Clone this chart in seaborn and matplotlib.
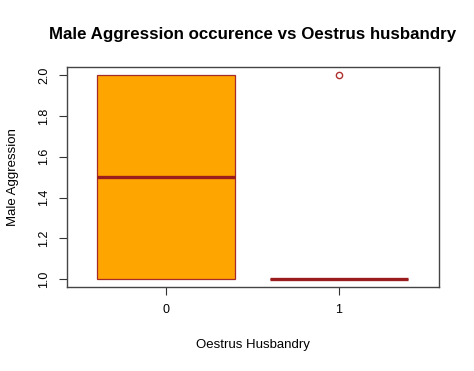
import matplotlib
matplotlib.use('Agg')

import pandas as pd
import matplotlib.pyplot as plt
import seaborn as sns

# -------------------------------
# DATA
# -------------------------------

husbandry_0 = [1, 1, 2, 2]
husbandry_1 = [1, 1, 1, 1, 1, 1, 1, 2]
groups = ["0", "1"]

df = pd.DataFrame({
    "husbandry": [groups[0]] * len(husbandry_0) + [groups[1]] * len(husbandry_1),
    "aggression": husbandry_0 + husbandry_1,
})

# -------------------------------
# PLOT
# -------------------------------

sns.set_style("white")
plt.rcParams['font.family'] = ['Liberation Sans', 'DejaVu Sans']
plt.rcParams['text.color'] = 'black'
plt.rcParams['axes.labelcolor'] = 'black'
plt.rcParams['xtick.color'] = 'black'
plt.rcParams['ytick.color'] = 'black'

fig = plt.figure(figsize=(4.74, 3.71), dpi=100)
ax = fig.add_axes([0.141, 0.226, 0.785, 0.593])

sns.boxplot(
    data=df,
    x="husbandry",
    y="aggression",
    order=groups,
    color="#FFA500",
    saturation=1,
    linecolor="#A52A2A",
    linewidth=0.9,
    width=0.8,
    showcaps=False,
    medianprops=dict(linewidth=2.4, color="#9B1C1C"),
    flierprops=dict(marker='o', markerfacecolor='none',
                    markeredgecolor='#B03030', markersize=4.5),
    ax=ax
)

ax.set_xlim(-0.572, 1.578)
ax.set_ylim(0.96, 2.04)
ax.set_yticks([1.0, 1.2, 1.4, 1.6, 1.8, 2.0])
ax.set_yticklabels(["1.0", "1.2", "1.4", "1.6", "1.8", "2.0"],
                   rotation=90, va='center')

for s in ax.spines.values():
    s.set_visible(True)
    s.set_color("#444444")
    s.set_linewidth(1)

ax.tick_params(axis='both', direction='out', length=6, width=0.8,
               color="#333333", labelcolor="black", labelsize=9, pad=6,
               left=True, bottom=True)

ax.set_title("Male Aggression occurence vs Oestrus husbandry",
             fontsize=12.2, fontweight='bold', pad=20, color="black")
ax.set_xlabel("Oestrus Husbandry", fontsize=9.5, labelpad=17)
ax.set_ylabel("Male Aggression", fontsize=9.5, labelpad=14)

plt.savefig("out.png", dpi=100)
